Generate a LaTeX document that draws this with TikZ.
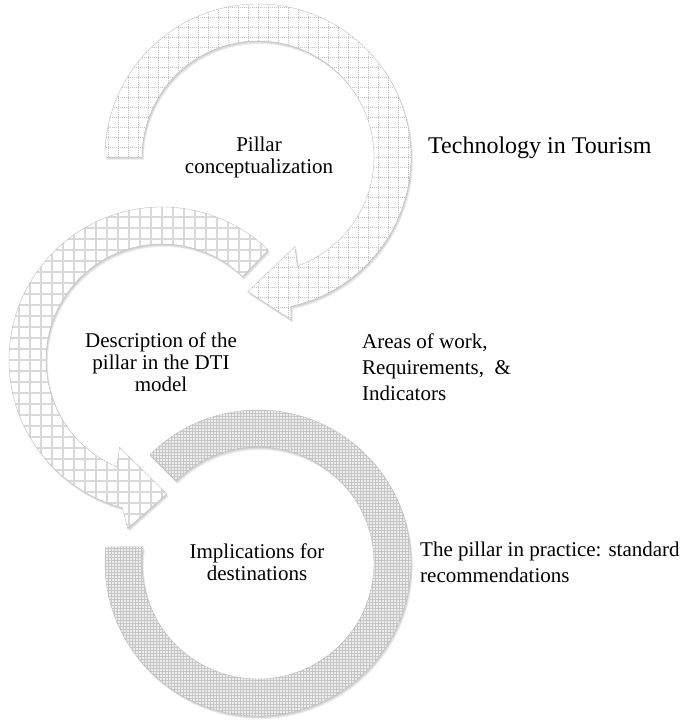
\documentclass[tikz,border=0pt]{standalone}
\usepackage{fontspec}
\setmainfont{Liberation Serif}
\usetikzlibrary{patterns,positioning}

\newcommand\ringone{(180:116) -- (180:153) arc[start angle=180,end angle=-77.6,radius=153]
  -- (-78.5:166) -- (-94.4:135) -- (-67.6:97) -- (-70.2:116)
  arc[start angle=-70.2,end angle=180,radius=116] -- cycle}
\newcommand\ringtwo{(46:116) -- (46:153) arc[start angle=46,end angle=255,radius=153]
  -- (258.5:172) -- (272:134) -- (244:97) -- (247:116)
  arc[start angle=247,end angle=46,radius=116] -- cycle}
\newcommand\ringthree{(135:116) -- (135:153) arc[start angle=135,end angle=-186,radius=153]
  -- (-188:116) arc[start angle=-188,end angle=135,radius=116] -- cycle}

\begin{document}
\begin{tikzpicture}[
x=1pt,y=1pt,
shade/.style={
  black,
  opacity=0.07
},
rim/.style={
  draw=gray!50,
  line width=0.4pt
},
intext/.style={
  align=center,
  inner sep=0pt,
  font=\fontsize{21}{22}\selectfont
},
sidetext/.style={
  anchor=west,
  align=left,
  inner sep=0pt,
  font=\fontsize{21}{26}\selectfont
}
]
\useasboundingbox (0,0) rectangle (685,722);
\coordinate (c1) at (258,565);
\coordinate (c2) at (162,362);
\coordinate (c3) at (258,159);

\begin{scope}[shift={(c3)}]
\foreach \d in {1,2,3}
  \fill[shade,shift={({0.6*\d},{-\d})}] \ringthree;
\fill[gray!14] \ringthree;
\fill[pattern=grid,pattern color=gray!45] \ringthree;
\path[rim] \ringthree;
\end{scope}

\begin{scope}[shift={(c2)}]
\foreach \d in {1,2,3}
  \fill[shade,shift={({0.6*\d},{-\d})}] \ringtwo;
\fill[white] \ringtwo;
\begin{scope}
\clip \ringtwo;
\draw[gray!30,line width=1.3pt,step=11] (-180,-190) grid (180,180);
\end{scope}
\path[rim] \ringtwo;
\end{scope}

\begin{scope}[shift={(c1)}]
\foreach \d in {1,2,3}
  \fill[shade,shift={({0.6*\d},{-\d})}] \ringone;
\fill[white] \ringone;
\begin{scope}
\clip \ringone;
\draw[gray!45,line width=0.6pt,dash pattern=on 1pt off 1pt,step=10] (-180,-190) grid (180,180);
\end{scope}
\path[rim] \ringone;
\end{scope}

\node[intext] (pillar) at (259,565) {Pillar\\conceptualization};
\node[intext] (descr) at (161,360) {Description of the\\pillar in the DTI\\model};
\node[intext] (impl) at (257,160) {Implications for\\destinations};

\node[sidetext,font=\fontsize{24}{28}\selectfont] (tech) at (428,574) {Technology in Tourism};
\node[sidetext] (areas) at (362,355) {Areas of work,\\Requirements,\ \ \&\\Indicators};
\node[sidetext] (practice) at (420,160) {The pillar in practice: standard\\recommendations};
\end{tikzpicture}
\end{document}
